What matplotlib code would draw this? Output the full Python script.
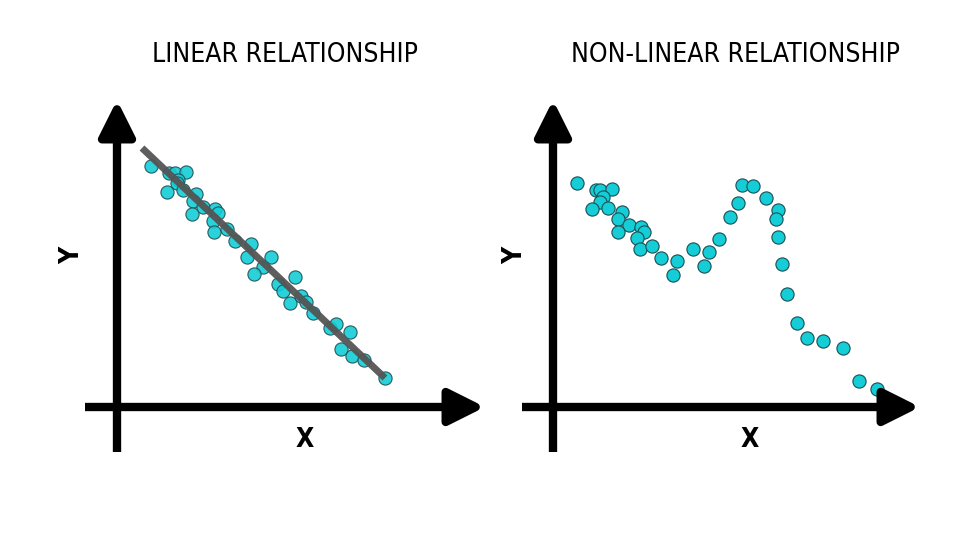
import matplotlib.pyplot as plt

# ── data (in pixel units of the 980x551 canvas) ───────────────────────────────
lin_x = [151, 169, 175, 186, 178, 177, 167, 183, 196, 193, 203, 215, 218, 192,
         213, 214, 227, 235, 251, 247, 271, 263, 254, 295, 278, 283, 290, 301,
         306, 313, 330, 336, 350, 341, 352, 364, 385]
lin_y = [166, 173, 173, 172, 180, 183, 192, 190, 194, 201, 207, 209, 213, 214,
         221, 232, 229, 241, 244, 257, 257, 267, 274, 277, 284, 291, 303, 296,
         302, 313, 328, 324, 332, 349, 356, 360, 378]
fit_x = [142, 385]
fit_y = [148, 378]

nl_x = [577, 596, 600, 612, 603, 600, 592, 608, 622, 618, 629, 641, 644, 618,
        637, 640, 652, 661, 677, 673, 693, 709, 704, 719, 730, 738, 742, 753,
        766, 778, 776, 778, 782, 787, 797, 807, 823, 843, 859, 877]
nl_y = [183, 190, 190, 189, 197, 202, 209, 208, 212, 219, 225, 227, 232, 232,
        238, 249, 246, 258, 261, 275, 249, 252, 266, 239, 217, 203, 185, 186,
        198, 210, 219, 237, 264, 294, 323, 338, 341, 348, 381, 389]

titles = ["LINEAR RELATIONSHIP", "NON-LINEAR RELATIONSHIP"]

fig = plt.figure(figsize=(9.8, 5.51), dpi=100)
ax = fig.add_axes([0, 0, 1, 1])
ax.set_xlim(0, 980)
ax.set_ylim(551, 0)
ax.axis("off")

CYAN = "#14CDD6"
arrow_kw = dict(arrowstyle="-|>,head_length=1.2,head_width=0.6", lw=6, color="black",
                shrinkA=0, shrinkB=0, mutation_scale=18, capstyle="butt")

for vx, hx0, hx1, tx, ttl, ylx, xlx in [(117, 85, 485, 285, titles[0], 72, 305),
                                        (553, 522, 920, 735, titles[1], 515, 750)]:
    ax.annotate("", xy=(vx, 100), xytext=(vx, 452), arrowprops=arrow_kw)
    ax.annotate("", xy=(hx1, 407), xytext=(hx0, 407), arrowprops=arrow_kw)
    ax.text(tx, 55, ttl, ha="center", va="center", fontsize=19,
            fontstretch="condensed")
    ax.text(ylx, 255, "Y", ha="center", va="center", fontsize=19,
            fontweight="bold", rotation=90, fontstretch="condensed")
    ax.text(xlx, 440, "X", ha="center", va="center", fontsize=19,
            fontweight="bold", fontstretch="condensed")

ax.plot(fit_x, fit_y, color="#555555", lw=5, solid_capstyle="butt", zorder=3, alpha=0.95)
ax.plot(lin_x, lin_y, "o", ms=9.5, mfc=CYAN, mec="#1a4f55", mew=0.8, alpha=0.9, zorder=2)
ax.plot(nl_x, nl_y, "o", ms=9.5, mfc=CYAN, mec="#1a4f55", mew=0.8, zorder=2)

fig.savefig("out.png", dpi=100)
